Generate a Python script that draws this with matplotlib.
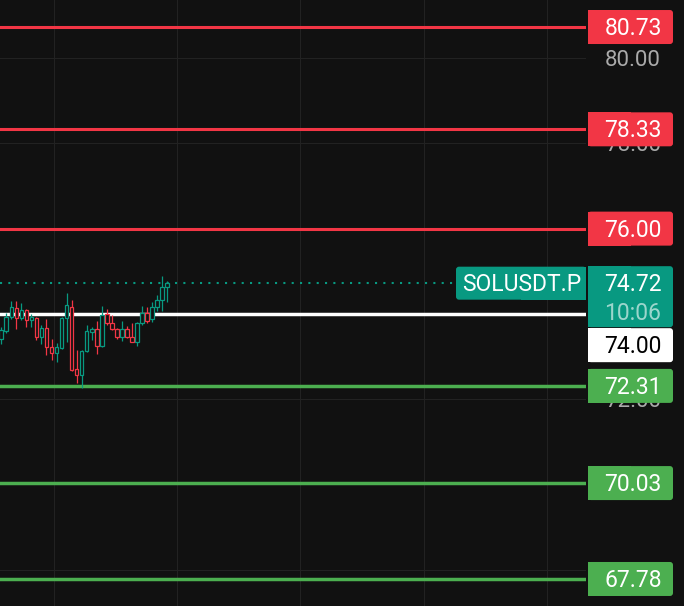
import numpy as np
import matplotlib

matplotlib.use("Agg")
import matplotlib.pyplot as plt
from matplotlib.patches import FancyBboxPatch, Rectangle

plt.rcParams["font.family"] = ["Roboto", "DejaVu Sans"]

BG = "#111111"
GRID = "#222222"
UP = "#089981"
DOWN = "#f23645"
SUPPORT = "#4caf50"
TICK_TEXT = "#aaaaaa"

# candles (oldest first)
opens = [73.40, 73.60, 73.93, 74.13, 73.90, 74.08, 73.85, 73.90, 73.45, 73.68,
         73.22, 73.08, 73.20, 73.90, 74.17, 72.70, 72.56, 73.13, 73.58, 73.65,
         73.24, 73.99, 73.78, 73.64, 73.45, 73.64, 73.45, 73.35, 73.78, 74.03,
         73.87, 74.17, 74.32, 74.62]
highs = [73.70, 74.02, 74.30, 74.30, 74.25, 74.12, 74.00, 73.92, 73.75, 73.87,
         73.40, 73.31, 73.92, 74.48, 74.32, 73.15, 73.15, 73.75, 73.70, 73.83,
         74.18, 74.11, 73.97, 73.66, 73.83, 73.71, 73.78, 73.80, 74.18, 74.15,
         74.29, 74.44, 74.88, 74.77]
lows = [73.30, 73.55, 73.88, 73.64, 73.85, 73.70, 73.70, 73.38, 73.30, 73.03,
        72.91, 72.87, 73.18, 73.35, 72.66, 72.37, 72.26, 73.10, 73.38, 73.07,
        73.22, 73.73, 73.62, 73.42, 73.36, 73.43, 73.33, 73.24, 73.74, 73.78,
        73.82, 74.06, 74.06, 74.28]
closes = [73.62, 73.93, 74.15, 73.90, 74.08, 73.85, 73.92, 73.45, 73.68, 73.22,
          73.08, 73.22, 73.90, 74.20, 72.68, 72.56, 73.13, 73.60, 73.65, 73.24,
          73.97, 73.78, 73.64, 73.45, 73.64, 73.45, 73.35, 73.78, 74.03, 73.83,
          74.17, 74.32, 74.62, 74.72]

resistance = [80.73, 78.33, 76.00]
support = [72.31, 70.03, 67.78]
pivot = 74.00
last_price = 74.72
symbol = "SOLUSDT.P"
countdown = "10:06"
price_ticks = [68, 70, 72, 74, 76, 78, 80]
time_grid = [10.5, 35.0, 59.5, 84.0, 108.5]

W, H = 684, 606
SCALE_X = 586  # where the price scale starts, px
FS = 16.5
TICK_FS = 16


def cap(fs):
    return 0.711 * fs * 100 / 72  # cap height in px


fig = plt.figure(figsize=(W / 100, H / 100), dpi=100, facecolor=BG)
ax = fig.add_axes([0, 0, SCALE_X / W, 1])
ax.set_facecolor(BG)
ax.set_xlim(-0.24, 116.26)
ax.set_ylim(67.146, 81.364)
ax.set_xticks(time_grid)
ax.set_yticks(price_ticks)
ax.tick_params(length=0, labelbottom=False, labelleft=False)
ax.grid(True, color=GRID, linewidth=0.8, zorder=0)
ax.set_axisbelow(True)
for spine in ax.spines.values():
    spine.set_visible(False)

o = np.array(opens)
h = np.array(highs)
l = np.array(lows)
c = np.array(closes)
x = np.arange(len(o))
colors = np.where(c >= o, UP, DOWN)

# level lines
for p in resistance:
    ax.axhline(p, color=DOWN, linewidth=2.2, zorder=2)
for p in support:
    ax.axhline(p, color=SUPPORT, linewidth=2.5, zorder=2)
ax.axhline(pivot, color="white", linewidth=2.5, zorder=2)
ax.axhline(last_price, color=UP, linewidth=1.5, linestyle=(0, (1, 3)), zorder=1)

# hollow candles
ax.vlines(x, l, h, colors=colors, linewidth=0.9, zorder=4)
ax.bar(x, np.abs(c - o), width=0.7, bottom=np.minimum(o, c), color=BG,
       edgecolor=colors, linewidth=0.9, zorder=5)

# overlay in pixels for the price scale tags
ov = fig.add_axes([0, 0, 1, 1], zorder=10)
ov.set_xlim(0, W)
ov.set_ylim(0, H)
ov.axis("off")
ov.patch.set_visible(False)


def ypx(price):
    return ax.transData.transform((0, price))[1]


def tag(x0, x1, y_bot, y_top, color, rounded="right"):
    r = 3
    ov.add_patch(FancyBboxPatch((x0, y_bot), x1 - x0, y_top - y_bot,
                                boxstyle=f"round,pad=0,rounding_size={r}",
                                fc=color, ec="none", zorder=3))
    half = (x1 - x0) / 2
    sx = x0 if rounded == "right" else x0 + half
    ov.add_patch(Rectangle((sx, y_bot), half, y_top - y_bot, fc=color, ec="none", zorder=3))


def label(xc, yc, text, color, ha="center", z=4, fs=FS, **kw):
    ov.text(xc, yc - cap(fs) / 2, text, color=color, fontsize=fs, ha=ha, va="baseline",
            zorder=z, **kw)


TAG_X0, TAG_X1, TEXT_X = 588, 673, 633

# axis ticks sit under the tags
for t in price_ticks:
    label(605, ypx(t), f"{t:.2f}", TICK_TEXT, ha="left", z=1, fs=TICK_FS)

for p in resistance:
    y = ypx(p)
    tag(TAG_X0, TAG_X1, y - 17, y + 17, DOWN)
    label(TEXT_X, y, f"{p:.2f}", "white")

for p in support:
    y = ypx(p)
    tag(TAG_X0, TAG_X1, y - 17, y + 17, SUPPORT)
    label(TEXT_X, y, f"{p:.2f}", "white")

# last price with countdown
y = ypx(last_price)
last_bottom = y - 44
tag(TAG_X0, TAG_X1, last_bottom, y + 17, UP)
label(TEXT_X, y, f"{last_price:.2f}", "white")
label(TEXT_X, y - 28.5, countdown, "white", alpha=0.6)
tag(456, SCALE_X, y - 16.5, y + 16.5, UP, rounded="left")
label(521.5, y, symbol, "white")

# pivot tag pushed below the last price tag
top = last_bottom - 1
tag(TAG_X0, TAG_X1, top - 34, top, "white")
label(TEXT_X, top - 17, f"{pivot:.2f}", "black")

fig.savefig("out.png", dpi=100, facecolor=BG)
